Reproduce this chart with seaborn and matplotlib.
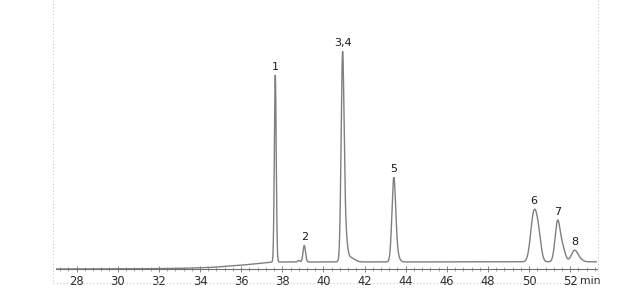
import numpy as np
import pandas as pd
import seaborn as sns
import matplotlib
matplotlib.use("Agg")
import matplotlib.pyplot as plt
from matplotlib.lines import Line2D
from matplotlib.ticker import MultipleLocator

# ---- data ----
peak_labels = ["1", "2", "3,4", "5", "6", "7", "8"]
peak_times = [37.66, 39.07, 40.93, 43.42, 50.22, 51.38, 52.20]
peak_heights = [187, 16.5, 196, 80, 46, 39, 11]
peak_sigmas = [0.045, 0.06, 0.07, 0.09, 0.15, 0.12, 0.15]

# shoulders / tails / minor bumps (unlabelled)
extra_times = [38.80, 41.05, 41.25, 43.55, 50.45, 51.62, 52.45]
extra_heights = [1.5, 30, 5, 8, 24, 14, 2.5]
extra_sigmas = [0.05, 0.09, 0.22, 0.12, 0.13, 0.13, 0.15]

# baseline drift
base_times = [27.0, 31.0, 33.0, 34.5, 36.0, 37.0, 37.6, 53.3]
base_levels = [0.0, 0.2, 0.6, 1.5, 3.8, 5.8, 7.0, 7.2]

x_ticks = [28, 30, 32, 34, 36, 38, 40, 42, 44, 46, 48, 50, 52]

# ---- build trace ----
t = np.linspace(27.0, 53.3, 6000)
signal = np.interp(t, base_times, base_levels)
for c, h, s in zip(peak_times + extra_times, peak_heights + extra_heights,
                   peak_sigmas + extra_sigmas):
    signal = signal + h * np.exp(-0.5 * ((t - c) / s) ** 2)
df = pd.DataFrame({"time": t, "signal": signal})

sns.set_theme(style="white")
plt.rcParams["font.family"] = ["DejaVu Sans"]

W, H = 638, 299
fig = plt.figure(figsize=(W / 100, H / 100), dpi=100)
ax_left, ax_right, ax_bottom, ax_top = 56, 597, 269, 10
ax = fig.add_axes([ax_left / W, (H - ax_bottom) / H,
                   (ax_right - ax_left) / W, (ax_bottom - ax_top) / H])

sns.lineplot(data=df, x="time", y="signal", ax=ax, color="#7f7f7f",
             linewidth=1.0, estimator=None, sort=False)

ax.set_xlim(27.0, 53.3)
ax.set_ylim(0, ax_bottom - ax_top)
ax.set_xlabel("")
ax.set_ylabel("")
ax.set_yticks([])
ax.set_xticks(x_ticks)
ax.set_xticklabels([str(v) for v in x_ticks])
ax.xaxis.set_minor_locator(MultipleLocator(0.4))
ax.tick_params(axis="x", which="major", direction="inout", length=4,
               width=0.6, color="#707070", labelsize=8.3, pad=2,
               labelcolor="#2a2a2a", bottom=True)
ax.tick_params(axis="x", which="minor", direction="inout", length=2.5,
               width=0.5, color="#808080", bottom=True)
for side in ["left", "top", "right"]:
    ax.spines[side].set_visible(False)
ax.spines["bottom"].set_color("#707070")
ax.spines["bottom"].set_linewidth(0.8)
ax.patch.set_alpha(0)

# peak labels placed above the local maxima of the trace
for lab, c in zip(peak_labels, peak_times):
    m = (t > c - 0.15) & (t < c + 0.15)
    top = signal[m].max()
    ax.text(c, top + 3, lab, ha="center", va="bottom", fontsize=8,
            color="#1a1a1a")

ax.text(52.98, -12, "min", ha="center", va="center", fontsize=7.8,
        color="#2a2a2a", clip_on=False)

# dotted frame around the plot region
frame_kw = dict(color="#cfc6cc", linewidth=0.8, linestyle=(0, (1, 2)))
def fig_line(xs, ys):
    fig.add_artist(Line2D([x / W for x in xs], [(H - y) / H for y in ys],
                          transform=fig.transFigure, **frame_kw))
fig_line([53, 53], [0, 283])
fig_line([598, 598], [0, 283])
fig_line([53, 598], [283, 283])

fig.savefig("out.png", dpi=100)
